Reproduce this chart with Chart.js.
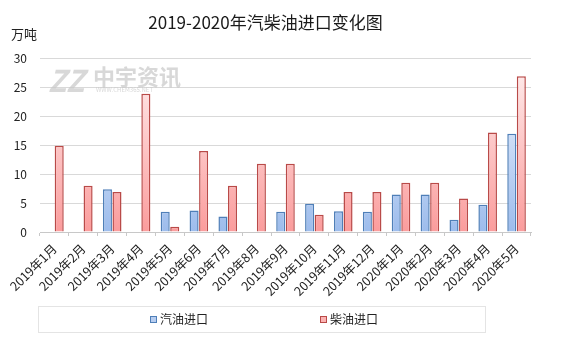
<!DOCTYPE html>
<html>
<head>
<meta charset="utf-8">
<script src="https://cdn.jsdelivr.net/npm/chart.js@4.4.0/dist/chart.umd.min.js"></script>
<style>
  body { margin: 0; background: #fff; }
  #wrap { width: 567px; height: 340px; }
</style>
</head>
<body>
<div id="wrap"><canvas id="chart" width="567" height="340"></canvas></div>
<script>
const months = ["2019年1月", "2019年2月", "2019年3月", "2019年4月", "2019年5月", "2019年6月",
    "2019年7月", "2019年8月", "2019年9月", "2019年10月", "2019年11月", "2019年12月",
    "2020年1月", "2020年2月", "2020年3月", "2020年4月", "2020年5月"];
const gasoline = [0.1, 0, 7.4, 0.1, 3.5, 3.7, 2.7, 0, 3.5, 4.9, 3.6, 3.5, 6.5, 6.5, 2.1, 4.7, 17.0];
const diesel = [14.9, 8, 6.9, 23.9, 0.9, 14, 8, 11.8, 11.8, 3, 6.9, 6.9, 8.5, 8.5, 5.8, 17.2, 26.9];
const yTicks = [0, 5, 10, 15, 20, 25, 30];

const FONT = "'Noto Sans CJK SC', 'Noto Sans', sans-serif";

function grad(top, bottom) {
    return function (ctx) {
        const area = ctx.chart.chartArea;
        if (!area) return bottom;
        const g = ctx.chart.ctx.createLinearGradient(0, area.top, 0, area.bottom);
        g.addColorStop(0, top);
        g.addColorStop(1, bottom);
        return g;
    };
}

// unit label, watermark and the framed legend
const extras = {
    id: "extras",
    beforeDatasetsDraw(chart) {
        const c = chart.ctx;
        c.save();
        c.fillStyle = "rgba(200,200,200,0.7)";
        c.font = "italic bold 30px " + FONT;
        c.textBaseline = "alphabetic";
        c.fillText("ZZ", 48, 92);
        c.font = "bold 22px " + FONT;
        c.fillText("中宇资讯", 93, 85);
        c.font = "6px " + FONT;
        c.fillText("WWW.CHEM365.NET", 96, 92);
        c.restore();
    },
    afterDraw(chart) {
        const c = chart.ctx;
        c.save();
        c.fillStyle = "#222";
        c.font = "13px " + FONT;
        c.textBaseline = "middle";
        c.fillText("万吨", 11, 34);

        c.strokeStyle = "#e4e4e4";
        c.lineWidth = 1;
        c.strokeRect(38.5, 306.5, 447, 26);

        const items = [[150, 160], [320, 330]];
        chart.data.datasets.forEach((ds, i) => {
            const [bx, tx] = items[i];
            c.fillStyle = i === 0 ? "#b7cdf0" : "#fbb3b3";
            c.fillRect(bx, 316, 7, 7);
            c.strokeStyle = ds.borderColor;
            c.strokeRect(bx + 0.5, 316.5, 6, 6);
            c.fillStyle = "#222";
            c.font = "12px " + FONT;
            c.textBaseline = "middle";
            c.fillText(ds.label, tx, 319);
        });
        c.restore();
    }
};

new Chart(document.getElementById("chart"), {
    type: "bar",
    plugins: [extras],
    data: {
        labels: months,
        datasets: [
            {
                label: "汽油进口",
                data: gasoline,
                backgroundColor: grad("#f4f8ff", "#9dbcec"),
                borderColor: "#4f7fb8",
                borderWidth: 1.5,
                borderSkipped: "bottom",
                categoryPercentage: 0.66,
                barPercentage: 0.95
            },
            {
                label: "柴油进口",
                data: diesel,
                backgroundColor: grad("#fff0f0", "#fb9c9c"),
                borderColor: "#b94a48",
                borderWidth: 1.5,
                borderSkipped: "bottom",
                categoryPercentage: 0.66,
                barPercentage: 0.95
            }
        ]
    },
    options: {
        responsive: false,
        animation: false,
        layout: { padding: { left: 0, right: 36, top: 0, bottom: 30 } },
        plugins: {
            tooltip: { enabled: false },
            legend: { display: false },
            title: {
                display: true,
                text: "2019-2020年汽柴油进口变化图",
                color: "#1a1a1a",
                font: { family: FONT, size: 17, weight: "normal" },
                padding: { top: 12, bottom: 26 }
            }
        },
        scales: {
            x: {
                grid: {
                    offset: true,
                    drawOnChartArea: false,
                    tickLength: 4,
                    color: "#c8c8c8"
                },
                border: { color: "#c8c8c8" },
                ticks: {
                    color: "#222",
                    font: { family: FONT, size: 12.5 },
                    minRotation: 45,
                    maxRotation: 45,
                    autoSkip: false,
                    padding: 5
                },
                afterFit(scale) { scale.height = 78; }
            },
            y: {
                min: 0,
                max: 30,
                afterBuildTicks(scale) {
                    scale.ticks = yTicks.map(v => ({ value: v }));
                },
                grid: { color: "#d9d9d9", drawTicks: false },
                border: { display: false },
                ticks: {
                    color: "#222",
                    font: { family: FONT, size: 12 },
                    padding: 13,
                    autoSkip: false
                },
                afterFit(scale) { scale.width = 40; }
            }
        }
    }
});
</script>
</body>
</html>
